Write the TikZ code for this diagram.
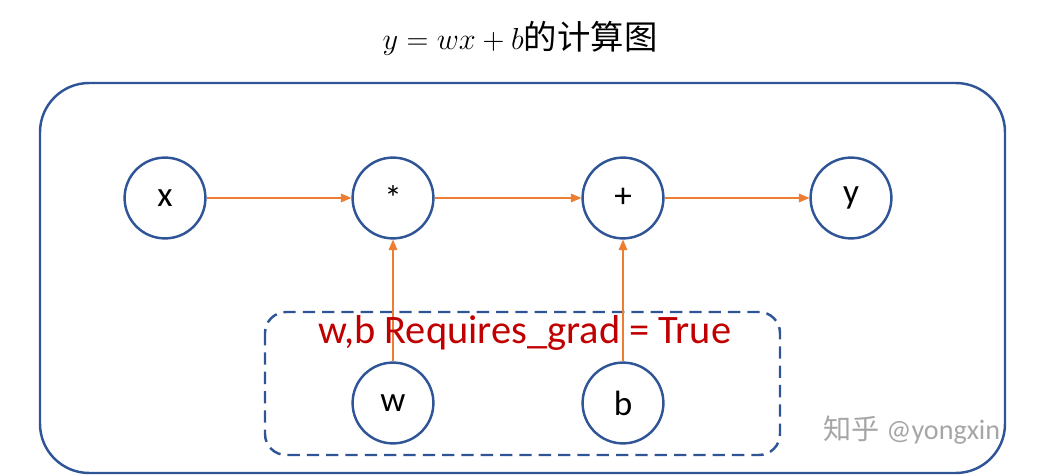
\documentclass[tikz,border=0pt]{standalone}
\usepackage{fontspec}
\setmainfont{Carlito}
\newfontfamily\cjk{Noto Sans CJK SC}
\usetikzlibrary{arrows.meta}
\definecolor{nblue}{HTML}{2F5597}
\definecolor{aorange}{HTML}{ED7D31}
\definecolor{tred}{HTML}{C00000}
\tikzset{
 op/.style={circle,draw=nblue,line width=1.4pt,minimum size=46pt,inner sep=0pt,font=\fontsize{20}{24}\selectfont},
 flow/.style={draw=aorange,line width=0.6pt,-{Triangle[length=6pt,width=5pt]}}
}
\begin{document}
\begin{tikzpicture}[x=0.02cm,y=-0.02cm]
\useasboundingbox (0,0) rectangle (1044,476);
\node (title) at (520,38) {\fontsize{19}{22}\selectfont $y=wx+b${\cjk 的计算图}};
\draw[nblue,line width=1.4pt,rounded corners=28pt] (40,83) rectangle (1005,473);
\draw[nblue,line width=1.4pt,dashed,dash pattern=on 7pt off 4pt,rounded corners=12pt] (265,312) rectangle (780,455);
\node[op] (x) at (165,198) {x};
\node[op] (mul) at (393,198) {*};
\node[op] (add) at (623,198) {+};
\node[op] (y) at (851,198) {y};
\node[op] (w) at (393,403) {w};
\node[op] (b) at (623,403) {b};
\draw[flow] (x) -- (mul);
\draw[flow] (mul) -- (add);
\draw[flow] (add) -- (y);
\draw[flow] (w) -- (mul);
\draw[flow] (b) -- (add);
\node[text=tred,font=\fontsize{23}{27}\selectfont] (req) at (525,333) {w,b Requires\_grad = True};
\node[text=black!35,font=\fontsize{16}{18}\selectfont] (wm) at (912,430) {{\cjk 知乎} @yongxin};
\end{tikzpicture}
\end{document}
